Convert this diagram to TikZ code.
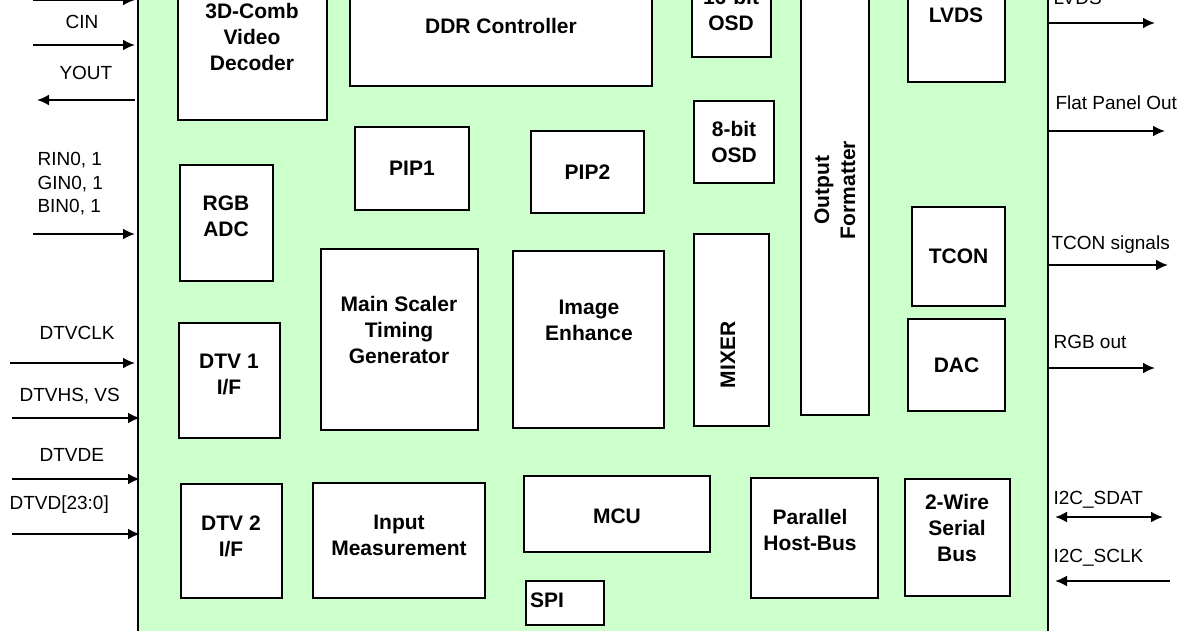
\documentclass[tikz,border=0pt]{standalone}
\usepackage{fontspec}
\setmainfont{Liberation Sans}
\usetikzlibrary{arrows.meta}
\definecolor{chip}{HTML}{CCFFCC}
\begin{document}
\begin{tikzpicture}[x=1pt,y=-1pt,
  blk/.style={draw=black,line width=1.3pt,fill=white,inner sep=0pt},
  bt/.style={font=\fontsize{21}{26}\selectfont\bfseries,align=center},
  lab/.style={font=\fontsize{19}{23.5}\selectfont,anchor=west},
  sig/.style={line width=2.2pt,-{Latex[length=12pt,width=11pt]}},
  sigb/.style={line width=2.2pt,{Latex[length=12pt,width=11pt]}-{Latex[length=12pt,width=11pt]}}]
\useasboundingbox (0,0) rectangle (1200,630);
\clip (0,0) rectangle (1200,630);
\fill[white] (0,0) rectangle (1200,630);
\draw[fill=chip,line width=1.3pt] (138,-20) rectangle (1048,650);
\newcommand{\bx}[6]{\draw[blk] (#2,#3) rectangle (#4,#5); \node[bt] (#1) at ({(#2+#4)/2},{(#3+#5)/2}) {#6};}
\draw[blk] (178,-20) rectangle (327,120); \node[bt] (comb) at (252,37) {3D-Comb\\Video\\Decoder};
\draw[blk] (350,-20) rectangle (652,86); \node[bt] (ddr) at (501,26) {DDR Controller};
\draw[blk] (692,-20) rectangle (771,57); \node[bt] (osd16) at (731,10) {16-bit\\OSD};
\draw[blk] (801,-20) rectangle (869,415); \node[bt,rotate=90] (of) at (835,190) {Output\\Formatter};
\draw[blk] (908,-20) rectangle (1005,82); \node[bt] (lvds) at (956,15) {LVDS};
\bx{osd8}{694}{101}{774}{183}{8-bit\\OSD}
\bx{pip1}{355}{127}{469}{210}{PIP1}
\bx{pip2}{531}{131}{644}{213}{PIP2}
\draw[blk] (180,165) rectangle (273,281); \node[bt] (adc) at (226,216) {RGB\\ADC};
\draw[blk] (321,249) rectangle (478,430); \node[bt] (ms) at (399,330) {Main Scaler\\Timing\\Generator};
\draw[blk] (513,251) rectangle (664,428); \node[bt] (ie) at (589,320) {Image\\Enhance};
\draw[blk] (694,234) rectangle (769,426); \node[bt,rotate=90] (mix) at (728,355) {MIXER};
\bx{tcon}{912}{207}{1005}{306}{TCON}
\bx{dac}{908}{319}{1005}{411}{DAC}
\draw[blk] (179,323) rectangle (280,438); \node[bt] (dtv1) at (229,374) {DTV 1\\I/F};
\draw[blk] (181,484) rectangle (282,598); \node[bt] (dtv2) at (231,536) {DTV 2\\I/F};
\draw[blk] (313,483) rectangle (485,598); \node[bt] (im) at (399,535) {Input\\Measurement};
\draw[blk] (524,476) rectangle (710,552); \node[bt] (mcu) at (617,516) {MCU};
\draw[blk] (526,581) rectangle (604,625); \node[bt] (spi) at (547,600) {SPI};
\draw[blk] (751,478) rectangle (878,598); \node[bt] (phb) at (810,530) {Parallel\\Host-Bus};
\draw[blk] (905,479) rectangle (1010,596); \node[bt] (tw) at (957,528) {2-Wire\\Serial\\Bus};
% left signals
\coordinate (l0a) at (33,0); \coordinate (l0b) at (135,0);
\draw[sig] (l0a) -- (l0b);
\node[lab] (cin) at (62,22) {CIN};
\coordinate (l1a) at (33,45); \coordinate (l1b) at (135,45); \draw[sig] (l1a) -- (l1b);
\node[lab] (yout) at (56,73) {YOUT};
\coordinate (l2a) at (135,100); \coordinate (l2b) at (37,100); \draw[sig] (l2a) -- (l2b);
\node[lab,align=left] (rgbin) at (34,184) {RIN0, 1\\GIN0, 1\\BIN0, 1};
\coordinate (l3a) at (33,234); \coordinate (l3b) at (135,234); \draw[sig] (l3a) -- (l3b);
\node[lab] (dclk) at (36,333) {DTVCLK};
\coordinate (l4a) at (10,363); \coordinate (l4b) at (135,363); \draw[sig] (l4a) -- (l4b);
\node[lab] (dhs) at (16,396) {DTVHS, VS};
\coordinate (l5a) at (12,418); \coordinate (l5b) at (140,418); \draw[sig] (l5a) -- (l5b);
\node[lab] (dde) at (36,455) {DTVDE};
\coordinate (l6a) at (12,479); \coordinate (l6b) at (140,479); \draw[sig] (l6a) -- (l6b);
\node[lab] (dd) at (6,505) {DTVD[23:0]};
\coordinate (l7a) at (12,534); \coordinate (l7b) at (140,534); \draw[sig] (l7a) -- (l7b);
% right signals
\node[lab] (rlv) at (1050,-2) {LVDS};
\coordinate (r1a) at (1048,23); \coordinate (r1b) at (1155,23); \draw[sig] (r1a) -- (r1b);
\node[lab] (fpo) at (1052,103) {Flat Panel Out};
\coordinate (r2a) at (1048,131); \coordinate (r2b) at (1165,131); \draw[sig] (r2a) -- (r2b);
\node[lab] (tcs) at (1048,245) {TCON signals};
\coordinate (r3a) at (1048,265); \coordinate (r3b) at (1168,265); \draw[sig] (r3a) -- (r3b);
\node[lab] (rgbo) at (1050,342) {RGB out};
\coordinate (r4a) at (1048,368); \coordinate (r4b) at (1155,368); \draw[sig] (r4a) -- (r4b);
\node[lab] (sda) at (1050,500) {I2C\_SDAT};
\coordinate (r5a) at (1055,517); \coordinate (r5b) at (1163,517); \draw[sigb] (r5a) -- (r5b);
\node[lab] (scl) at (1050,558) {I2C\_SCLK};
\coordinate (r6a) at (1170,581); \coordinate (r6b) at (1055,581); \draw[sig] (r6a) -- (r6b);
\end{tikzpicture}
\end{document}
